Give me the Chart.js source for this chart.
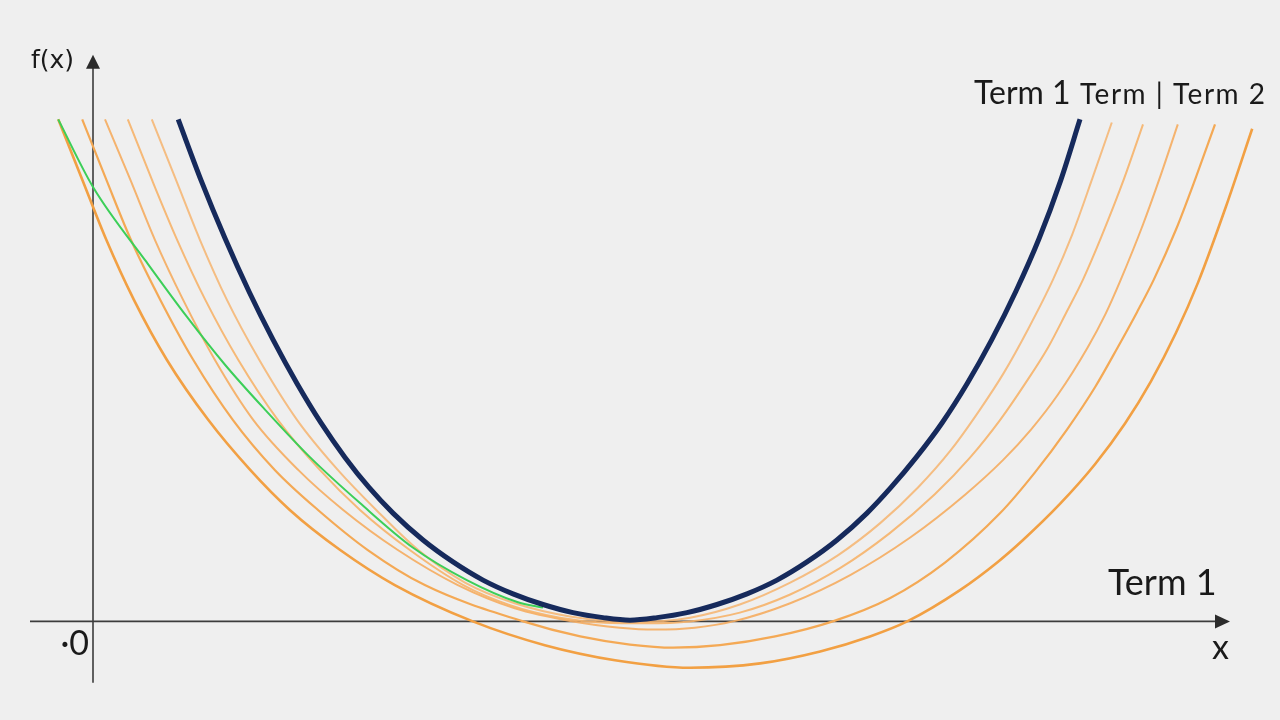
<!DOCTYPE html>
<html>
<head>
<meta charset="utf-8">
<title>Term 1 | Term 2</title>
<script src="https://cdn.jsdelivr.net/npm/chart.js@4.4.1/dist/chart.umd.min.js"></script>
<style>
  html, body { margin: 0; padding: 0; background: #efefef; }
  #wrap { width: 1280px; height: 720px; }
</style>
</head>
<body>
<div id="wrap"><canvas id="myChart" width="1280" height="720"></canvas></div>
<script>
// values (x along the axis, f(x) up)
const navyX = [1.42, 1.8, 2.2, 2.6, 3.0, 3.4, 3.8, 4.2, 4.6, 5.0, 5.5, 6.0, 6.5, 7.0, 7.5, 8.0, 8.5, 8.95, 9.4, 9.9, 10.4, 10.9, 11.4, 11.9, 12.4, 12.9, 13.3, 13.72, 14.15, 14.57, 14.98, 15.38, 15.77, 16.13, 16.45];
const navyY = [8.02, 7.05, 6.12, 5.27, 4.5, 3.8, 3.17, 2.62, 2.14, 1.73, 1.3, 0.95, 0.66, 0.44, 0.27, 0.14, 0.06, 0.02, 0.06, 0.14, 0.27, 0.44, 0.66, 0.95, 1.3, 1.73, 2.14, 2.62, 3.17, 3.8, 4.5, 5.27, 6.12, 7.05, 8.02];

const greenX = [-0.58, 0, 0.9, 1.57, 2.2, 2.87, 3.62, 4.45, 5.33, 6.23, 7.07, 7.5];
const greenY = [8.02, 6.94, 5.73, 4.86, 4.10, 3.38, 2.62, 1.89, 1.18, 0.66, 0.31, 0.22];

// orange family, widest first
const termCX = [-0.58, -0.18, 0.22, 0.68, 1.23, 1.92, 2.62, 3.28, 4.12, 5.03, 6.33, 7.53, 8.7, 9.95, 11.12, 12.12, 12.95, 13.57, 14.45, 15.08, 15.5, 16.12, 16.7, 17.2, 17.63, 18.05, 18.42, 18.88, 19.32];
const termCY = [8.02, 7.06, 6.10, 5.14, 4.18, 3.22, 2.42, 1.78, 1.14, 0.58, 0, -0.38, -0.62, -0.74, -0.67, -0.48, -0.24, 0, 0.50, 0.95, 1.30, 1.88, 2.51, 3.16, 3.83, 4.61, 5.42, 6.62, 7.87];

const termBX = [-0.18, 0.22, 0.63, 1.12, 1.67, 2.33, 3.03, 3.75, 4.58, 5.53, 7.17, 8.12, 8.95, 9.67, 10.45, 11.37, 12.33, 13.28, 14.2, 15.12, 15.7, 16.23, 16.7, 17.08, 17.4, 17.68, 18.05, 18.38, 18.7];
const termBY = [8.02, 7.06, 6.10, 5.14, 4.18, 3.22, 2.42, 1.78, 1.14, 0.58, 0, -0.24, -0.37, -0.42, -0.38, -0.24, 0, 0.37, 0.94, 1.73, 2.38, 3.06, 3.74, 4.38, 4.94, 5.46, 6.26, 7.09, 7.94];

const termAX = [0.2, 0.62, 1.03, 1.5, 2.03, 2.67, 3.42, 4.17, 5.08, 6.08, 7.03, 8.0, 8.78, 9.37, 10.03, 10.67, 11.62, 12.62, 13.62, 14.53, 15.17, 15.63, 16.08, 16.58, 16.87, 17.13, 17.5, 17.8, 18.08];
const termAY = [8.02, 7.06, 6.10, 5.14, 4.18, 3.22, 2.42, 1.78, 1.14, 0.58, 0.21, 0, -0.10, -0.13, -0.10, 0, 0.29, 0.74, 1.34, 2.02, 2.58, 3.06, 3.62, 4.38, 4.90, 5.46, 6.34, 7.14, 7.94];

const termDX = [0.58, 0.98, 1.4, 1.87, 2.42, 3.08, 3.78, 4.45, 5.28, 6.17, 6.95, 7.78, 8.53, 9.2, 9.95, 10.78, 11.62, 12.45, 13.28, 14.03, 14.62, 15.12, 15.53, 15.92, 16.22, 16.5, 16.8, 17.18, 17.5];
const termDY = [8.02, 7.06, 6.10, 5.14, 4.18, 3.22, 2.42, 1.78, 1.14, 0.58, 0.26, 0.06, -0.02, -0.03, 0, 0.14, 0.43, 0.85, 1.41, 2.03, 2.62, 3.22, 3.79, 4.38, 4.93, 5.46, 6.13, 7.06, 7.94];

const termEX = [0.98, 1.38, 1.78, 2.23, 2.77, 3.4, 4.08, 4.72, 5.42, 6.2, 7.03, 7.95, 9.03, 9.95, 10.78, 11.62, 12.42, 13.12, 13.75, 14.3, 14.78, 15.18, 15.58, 16.0, 16.32, 16.65, 16.98];
const termEY = [8.02, 7.06, 6.10, 5.14, 4.18, 3.22, 2.42, 1.78, 1.14, 0.62, 0.29, 0.08, -0.01, 0.06, 0.27, 0.62, 1.06, 1.57, 2.14, 2.74, 3.38, 3.97, 4.66, 5.46, 6.18, 7.06, 7.97];

const toPoints = (xs, ys) => xs.map((x, i) => ({ x: x, y: ys[i] }));

// axes with arrow heads and the loose labels
const axesPlugin = {
    id: 'axesPlugin',
    beforeDraw(chart) {
        const c = chart.ctx;
        c.save();
        c.fillStyle = '#efefef';
        c.fillRect(0, 0, chart.width, chart.height);
        c.restore();
    },
    beforeDatasetsDraw(chart) {
        const c = chart.ctx;
        const sx = chart.scales.x, sy = chart.scales.y;
        const x0 = sx.getPixelForValue(0), y0 = sy.getPixelForValue(0);
        const xEnd = sx.getPixelForValue(18.95), yTop = sy.getPixelForValue(9.05);
        c.save();
        c.strokeStyle = '#3d3d3d';
        c.fillStyle = '#2b2b2b';
        c.lineWidth = 1.6;
        c.beginPath();
        c.moveTo(sx.getPixelForValue(-1.05), y0);
        c.lineTo(xEnd - 8, y0);
        c.moveTo(x0, sy.getPixelForValue(-0.98));
        c.lineTo(x0, yTop + 10);
        c.stroke();
        // arrow heads
        c.beginPath();
        c.moveTo(xEnd, y0);
        c.lineTo(xEnd - 15, y0 - 7);
        c.lineTo(xEnd - 15, y0 + 7);
        c.closePath();
        c.fill();
        c.beginPath();
        c.moveTo(x0, yTop);
        c.lineTo(x0 - 7, yTop + 14);
        c.lineTo(x0 + 7, yTop + 14);
        c.closePath();
        c.fill();
        c.restore();
    },
    afterDraw(chart) {
        const c = chart.ctx;
        const sx = chart.scales.x, sy = chart.scales.y;
        const x0 = sx.getPixelForValue(0), y0 = sy.getPixelForValue(0);
        c.save();
        c.fillStyle = '#1a1a1a';
        c.textBaseline = 'alphabetic';
        c.font = '25px "DejaVu Sans"';
        c.textAlign = 'right';
        c.fillText('f(x)', x0 - 19, 68);
        c.font = '34px Lato';
        c.fillText('·0', x0 - 4, y0 + 34);
        c.textAlign = 'left';
        c.font = '32px Lato';
        c.fillText('Term 1', 974, 104);
        c.font = '28px Lato';
        c.letterSpacing = '1.5px';
        c.fillText('Term | Term 2', 1080, 104);
        c.letterSpacing = '0px';
        c.font = '36px Lato';
        c.fillText('Term 1', 1108, 595);
        c.font = '34px Lato';
        c.fillText('x', 1212, 659);
        c.restore();
    }
};

const lineSet = (label, xs, ys, color, width, order) => ({
    label: label,
    data: toPoints(xs, ys),
    borderColor: color,
    borderWidth: width,
    pointRadius: 0,
    fill: false,
    cubicInterpolationMode: 'monotone',
    borderCapStyle: 'butt',
    borderJoinStyle: 'round',
    order: order
});

const renderChart = () => {
    var ctx = document.getElementById('myChart').getContext('2d');
    var myChart = new Chart(ctx, {
        type: 'line',
        data: {
            datasets: [
                lineSet('f(x)', navyX, navyY, '#162a5c', 5, 0),
                lineSet('Term', greenX, greenY, '#3ccf58', 2, 1),
                lineSet('Term 1', termEX, termEY, 'rgba(246, 180, 110, 0.85)', 2, 2),
                lineSet('Term 1', termDX, termDY, 'rgba(246, 178, 105, 0.9)', 2, 3),
                lineSet('Term 2', termAX, termAY, 'rgba(245, 172, 95, 0.9)', 2, 4),
                lineSet('Term 2', termBX, termBY, '#f4a955', 2.2, 5),
                lineSet('Term 2', termCX, termCY, '#f2a043', 2.6, 6)
            ]
        },
        options: {
            responsive: false,
            animation: false,
            devicePixelRatio: 1,
            layout: { padding: { left: 33, right: 17, top: 58, bottom: 36 } },
            plugins: {
                legend: { display: false },
                tooltip: { enabled: false },
                title: { display: false }
            },
            scales: {
                x: { type: 'linear', min: -1, max: 19.5, display: false },
                y: { type: 'linear', min: -1, max: 9, display: false }
            }
        },
        plugins: [axesPlugin]
    });
};

document.addEventListener('DOMContentLoaded', function() {
    renderChart();
});
</script>
</body>
</html>
